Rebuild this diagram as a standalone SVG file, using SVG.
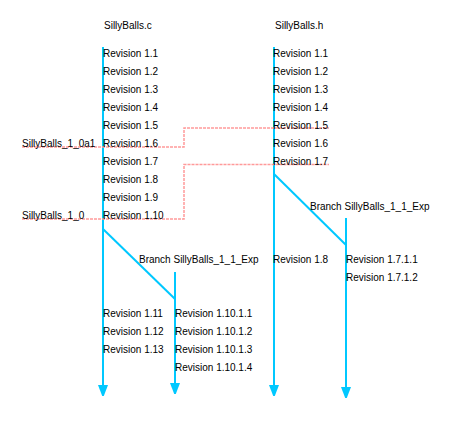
<svg xmlns="http://www.w3.org/2000/svg" width="453" height="429" viewBox="0 0 453 429">
<style>
text{font-family:"Liberation Sans",Arial,sans-serif;font-size:10px;fill:#000}
.ln{stroke:#00c8ff;stroke-width:2;fill:none}
.tag{stroke:#ff9a9a;stroke-width:1.5;stroke-dasharray:3 1;fill:none}
.ah{fill:#00c8ff}
</style>
<defs>
<polygon id="arr" class="ah" points="-5,0 5,0 0.8,11 -0.8,11"/>
</defs>
<rect width="453" height="429" fill="#fff"/>
<g id="connectors">
<line class="ln" x1="103" y1="47" x2="103" y2="388"/>
<use href="#arr" x="103" y="385"/>
<polyline class="ln" points="103,229 175,299"/>
<line class="ln" x1="175" y1="272" x2="175" y2="386"/>
<use href="#arr" x="175" y="383"/>
<line class="ln" x1="274" y1="47" x2="274" y2="388"/>
<use href="#arr" x="274" y="385"/>
<polyline class="ln" points="274,174 346,245"/>
<line class="ln" x1="346" y1="218" x2="346" y2="390"/>
<use href="#arr" x="346" y="387"/>
<polyline class="tag" points="22,147 184,147 184,128 329,128"/>
<polyline class="tag" points="22,219 184,219 184,164.5 329,164.5"/>
</g>
<g id="file-c">
<text x="104" y="29">SillyBalls.c</text>
<text x="103" y="57">Revision 1.1</text>
<text x="103" y="75">Revision 1.2</text>
<text x="103" y="93">Revision 1.3</text>
<text x="103" y="111">Revision 1.4</text>
<text x="103" y="129">Revision 1.5</text>
<text x="103" y="147">Revision 1.6</text>
<text x="103" y="165">Revision 1.7</text>
<text x="103" y="183">Revision 1.8</text>
<text x="103" y="201">Revision 1.9</text>
<text x="103" y="219">Revision 1.10</text>
<text x="103" y="317">Revision 1.11</text>
<text x="103" y="335">Revision 1.12</text>
<text x="103" y="353">Revision 1.13</text>
</g>
<g id="tags-c">
<text x="22" y="147">SillyBalls_1_0a1</text>
<text x="22" y="219">SillyBalls_1_0</text>
</g>
<g id="branch-c">
<text x="139" y="263">Branch SillyBalls_1_1_Exp</text>
<text x="175" y="317">Revision 1.10.1.1</text>
<text x="175" y="335">Revision 1.10.1.2</text>
<text x="175" y="353">Revision 1.10.1.3</text>
<text x="175" y="371">Revision 1.10.1.4</text>
</g>
<g id="file-h">
<text x="275" y="29">SillyBalls.h</text>
<text x="273" y="57">Revision 1.1</text>
<text x="273" y="75">Revision 1.2</text>
<text x="273" y="93">Revision 1.3</text>
<text x="273" y="111">Revision 1.4</text>
<text x="273" y="129">Revision 1.5</text>
<text x="273" y="147">Revision 1.6</text>
<text x="273" y="165">Revision 1.7</text>
<text x="273" y="263">Revision 1.8</text>
</g>
<g id="branch-h">
<text x="310" y="210">Branch SillyBalls_1_1_Exp</text>
<text x="346" y="263">Revision 1.7.1.1</text>
<text x="346" y="281">Revision 1.7.1.2</text>
</g>
</svg>
